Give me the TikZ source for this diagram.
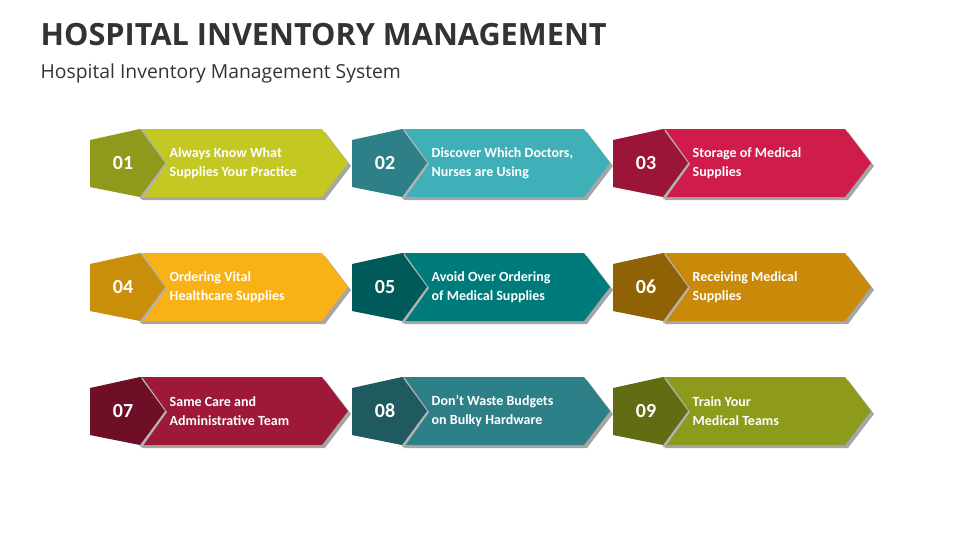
\documentclass[tikz,border=0pt]{standalone}
\usepackage{fontspec}
\setmainfont{Carlito}
\newfontfamily\titlefont{Open Sans}
\begin{document}
\begin{tikzpicture}[x=0.75pt,y=-0.75pt]
\useasboundingbox (0,0) rectangle (960,540);
\tikzset{lbl/.style={anchor=west,align=left,text=white,font=\bfseries\fontsize{10.5}{14}\selectfont},
num/.style={text=white,font=\bfseries\fontsize{15}{18}\selectfont}}
\node[anchor=west,text=black!80,font=\titlefont\bfseries\fontsize{23}{26}\selectfont] (title) at (36,35) {HOSPITAL INVENTORY MANAGEMENT};
\node[anchor=west,text=black!80,font=\titlefont\fontsize{14.5}{17}\selectfont] (sub) at (36,73) {Hospital Inventory Management System};
\newcommand\blk[7]{% x, y, light, dark, num, label, name
\begin{scope}[shift={(#1,#2)}]
\fill[black!35] (52,-31) -- (235,-31) -- (261,3) -- (235,37) -- (52,37) -- cycle;
\fill[#3] (50,-34) -- (232,-34) -- (258,0) -- (232,34) -- (50,34) -- cycle;
\fill[black!30] (52,-34) -- (77,1) -- (52,36) -- (50,36) -- cycle;
\fill[#4] (0,-23) -- (50,-34) -- (75,0) -- (50,34) -- (0,24) -- cycle;
\node[num] (n#7) at (33,0) {#5};
\node[lbl] (l#7) at (75,0) {#6};
\end{scope}}
\definecolor{l1}{RGB}{195,200,35}\definecolor{d1}{RGB}{143,154,28}
\definecolor{l2}{RGB}{64,176,184}\definecolor{d2}{RGB}{46,128,136}
\definecolor{l3}{RGB}{208,28,75}\definecolor{d3}{RGB}{154,21,56}
\definecolor{l4}{RGB}{249,178,21}\definecolor{d4}{RGB}{201,143,10}
\definecolor{l5}{RGB}{0,123,123}\definecolor{d5}{RGB}{0,90,90}
\definecolor{l6}{RGB}{201,138,10}\definecolor{d6}{RGB}{142,98,5}
\definecolor{l7}{RGB}{158,24,56}\definecolor{d7}{RGB}{110,15,39}
\definecolor{l8}{RGB}{46,128,136}\definecolor{d8}{RGB}{31,90,96}
\definecolor{l9}{RGB}{142,154,28}\definecolor{d9}{RGB}{98,108,18}
\blk{90}{163}{l1}{d1}{01}{Always Know What\\Supplies Your Practice}{a}
\blk{352}{163}{l2}{d2}{02}{Discover Which Doctors,\\Nurses are Using}{b}
\blk{613}{163}{l3}{d3}{03}{Storage of Medical\\Supplies}{c}
\blk{90}{287}{l4}{d4}{04}{Ordering Vital\\Healthcare Supplies}{d}
\blk{352}{287}{l5}{d5}{05}{Avoid Over Ordering\\of Medical Supplies}{e}
\blk{613}{287}{l6}{d6}{06}{Receiving Medical\\Supplies}{f}
\blk{90}{411}{l7}{d7}{07}{Same Care and\\Administrative Team}{g}
\blk{352}{411}{l8}{d8}{08}{Don't Waste Budgets\\on Bulky Hardware}{h}
\blk{613}{411}{l9}{d9}{09}{Train Your\\Medical Teams}{i}
\end{tikzpicture}
\end{document}
